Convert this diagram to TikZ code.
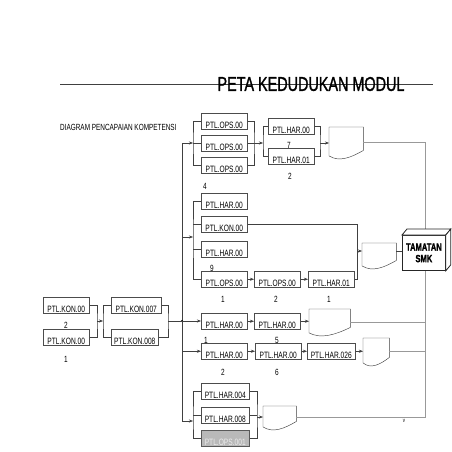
\documentclass[tikz,border=0pt]{standalone}
\usepackage{fontspec}
\setmainfont{Liberation Sans}
\newfontfamily\narrowfont[FakeStretch=0.72]{Liberation Sans}
\newfontfamily\titlefont[FakeStretch=0.72,FakeBold=1.2]{Liberation Sans}
\usetikzlibrary{arrows.meta,calc}

% document symbol with wavy bottom
\newcommand{\docshape}[1]{%
  \draw[line,fill=white] (#1.north west) -- (#1.north east) -- ([yshift=8pt]#1.south east)
    .. controls ($(#1.south west)!0.65!(#1.south east)+(0pt,1pt)$) and ($(#1.south west)!0.3!(#1.south east)+(0pt,-4pt)$) .. ([yshift=2.5pt]#1.south west) -- cycle;}
% top and side faces of the 3D box
\newcommand{\cubeshape}[1]{%
  \draw[cube] (#1.north west) -- ++(5,-6) -- ([shift={(5pt,6pt)}]#1.north east) -- (#1.north east) -- cycle;
  \draw[cube] (#1.north east) -- ++(5,-6) -- ([shift={(5pt,6pt)}]#1.south east) -- (#1.south east) -- cycle;}

\begin{document}
\begin{tikzpicture}[
    x=1pt, y=-1pt,
    line/.style={draw=black!75, line width=0.45pt},
    arrow/.style={line, -{Stealth[length=4pt,width=3pt]}},
    rail/.style={draw=black!40, line width=0.45pt},
    cube/.style={draw=black!85, line width=0.8pt, fill=white},
    box/.style={draw=black!70, fill=white, line width=0.5pt, anchor=north west, minimum width=46pt,
        inner xsep=0pt, inner ysep=0.5pt, text height=15pt, text depth=0pt, font=\fontsize{9.2}{10}\narrowfont},
    greybox/.style={box, fill=gray!55, draw=gray!70!black, text=gray!15},
    doc/.style={anchor=north west, inner sep=0pt},
    num/.style={inner sep=0pt, font=\fontsize{9}{10}\narrowfont},
    dot/.style={circle, fill=black, inner sep=0pt, minimum size=2.2pt}
]
    \fill[white] (0,0) rectangle (452,452);
    \useasboundingbox (0,0) rectangle (452,452);

    % Title
    \coordinate (ruleL) at (60,84);
    \coordinate (ruleR) at (433,84);
    \draw[line] (ruleL) -- (ruleR);
    \node[font=\fontsize{20}{22}\titlefont] (title) at (311,84) {PETA KEDUDUKAN MODUL};
    \node[anchor=west, inner sep=0pt, font=\fontsize{8.9}{10}\narrowfont] (subtitle) at (60,127) {DIAGRAM PENCAPAIAN KOMPETENSI};

    % Numbers
    \node[num] (n7) at (289,145) {7};
    \node[num] (n2a) at (290,176) {2};
    \node[num] (n4) at (205,186) {4};
    \node[num] (n9) at (212,268) {9};
    \node[num] (n1a) at (223,299) {1};
    \node[num] (n2b) at (276,299) {2};
    \node[num] (n1b) at (329,299) {1};
    \node[num] (n2k) at (66,325) {2};
    \node[num] (n1k) at (66,359) {1};
    \node[num] (n1c) at (206,340) {1};
    \node[num] (n5) at (277,340) {5};
    \node[num] (n2c) at (223,372) {2};
    \node[num] (n6) at (277,372) {6};
    \node[num, font=\fontsize{6}{6}\narrowfont] (nv) at (404,421) {v};

    % Group 1
    \node[box] (g1a) at (201,113) {PTL.OPS.00};
    \node[box] (g1b) at (201,135) {PTL.OPS.00};
    \node[box] (g1c) at (201,157) {PTL.OPS.00};
    \node[box] (g2a) at (268,118) {PTL.HAR.00};
    \node[box] (g2b) at (268,148) {PTL.HAR.01};
    \node[doc, minimum width=34pt, minimum height=31pt] (doc1) at (329,127) {};

    % Group 3
    \node[box] (g3a) at (201,193) {PTL.HAR.00};
    \node[box] (g3b) at (201,216) {PTL.KON.00};
    \node[box] (g3c) at (201,241) {PTL.HAR.00};
    \node[box] (g3d) at (201,271) {PTL.OPS.00};
    \node[box] (g3e) at (254,271) {PTL.OPS.00};
    \node[box] (g3f) at (308,271) {PTL.HAR.01};
    \node[doc, minimum width=34pt, minimum height=25pt] (doc2) at (362,243) {};

    % Left groups
    \node[box] (k1a) at (43,297) {PTL.KON.00};
    \node[box] (k1b) at (43,329) {PTL.KON.00};
    \node[box, minimum width=50pt] (k2a) at (111,297) {PTL.KON.007};
    \node[box, minimum width=47pt] (k2b) at (111,329) {PTL.KON.008};

    % Rows 4 and 5
    \node[box] (r4a) at (201,313) {PTL.HAR.00};
    \node[box] (r4b) at (254,313) {PTL.HAR.00};
    \node[doc, minimum width=41pt, minimum height=26pt] (doc3) at (309,309) {};
    \node[box] (r5a) at (201,343) {PTL.HAR.00};
    \node[box] (r5b) at (255,343) {PTL.HAR.00};
    \node[box, minimum width=48pt] (r5c) at (307,343) {PTL.HAR.026};
    \node[doc, minimum width=26pt, minimum height=27pt] (doc4) at (363,338) {};

    % Group 6
    \node[box, minimum width=48pt] (g6a) at (201,383) {PTL.HAR.004};
    \node[box, minimum width=48pt] (g6b) at (201,407) {PTL.HAR.008};
    \node[greybox, minimum width=48pt] (g6c) at (201,430) {PTL.OPS.001};
    \node[doc, minimum width=33pt, minimum height=23pt] (doc5) at (263,406) {};

    % Documents
    \docshape{doc1}
    \docshape{doc2}
    \docshape{doc3}
    \docshape{doc4}
    \docshape{doc5}

    % Junctions
    \coordinate (spine) at (182,321);
    \coordinate (g1in) at (193,143);
    \coordinate (g1out) at (254,143);
    \coordinate (g2in) at (263,143);
    \coordinate (g2out) at (320,143);
    \coordinate (g3in) at (193,237);
    \coordinate (g3out) at (357,251);
    \coordinate (k1out) at (97,321);
    \coordinate (k2in) at (103,321);
    \coordinate (k2out) at (168,321);
    \coordinate (g6in) at (193,421);
    \coordinate (g6out) at (257,417);
    \coordinate (rail) at (425,418);

    % Right rail
    \draw[rail] (doc1.east) -| (doc5.east -| rail) -- (doc5.east);
    \draw[rail] (doc3.east) -- (doc3.east -| rail);
    \draw[rail] (doc4.east) -- (doc4.east -| rail);

    % Tamatan
    \node[draw=black!85, line width=0.8pt, fill=white, anchor=north west, minimum width=43pt, minimum height=35pt,
        inner sep=0pt, align=center, font=\fontsize{10.5}{11.5}\titlefont\bfseries] (tamatan) at (402,235) {TAMATAN\\SMK};
    \cubeshape{tamatan}

    % Trunk
    \draw[line] (spine |- g1in) -- (spine |- g6in);
    \node[dot] (hub) at (spine) {};
    \draw[arrow] (spine |- g1in) -- (g1in);
    \draw[arrow] (spine |- g3in) -- (g3in);
    \draw[arrow] (spine) -- (spine -| r4a.west);
    \draw[arrow] (spine |- r5a.west) -- (r5a.west);
    \draw[arrow] (spine |- g6in) -- (g6in);

    % Group 1 arrows
    \draw[line] (g1a.west) -| (g1in) |- (g1c.west);
    \draw[line] (g1b.west) -- (g1b.west -| g1in);
    \draw[line] (g1a.east) -| (g1out) |- (g1c.east);
    \draw[line] (g1b.east) -- (g1b.east -| g1out);
    \draw[arrow] (g1out) -- (g2in);
    \draw[line] (g2a.west) -| (g2in) |- (g2b.west);
    \draw[line] (g2a.east) -| (g2out) |- (g2b.east);
    \draw[arrow] (g2out) -- (g2out -| doc1.west);

    % Group 3 arrows
    \draw[line] (g3a.west) -| (g3in) |- (g3d.west);
    \draw[line] (g3b.west) -- (g3b.west -| g3in);
    \draw[line] (g3c.west) -- (g3c.west -| g3in);
    \draw[line] (g3b.east) -| (g3out);
    \draw[line] (g3f.east) -| (g3out);
    \draw[arrow] (g3out) -- (g3out -| doc2.west);
    \draw[arrow] (g3d) -- (g3e);
    \draw[arrow] (g3e) -- (g3f);
    \draw[line] (g3out -| doc2.east) -- (g3out -| tamatan.west);

    % Left arrows
    \draw[line] (k1a.east) -| (k1out) |- (k1b.east);
    \draw[arrow] (k1out) -- (k2in);
    \draw[line] (k2a.west) -| (k2in) |- (k2b.west);
    \draw[line] (k2a.east) -| (k2out) |- (k2b.east);
    \draw[line] (k2out) -- (hub);

    % Rows 4 and 5 arrows
    \draw[arrow] (r4a) -- (r4b);
    \draw[arrow] (r4b.east) -- (r4b.east -| doc3.west);
    \draw[arrow] (r5a) -- (r5b);
    \draw[arrow] (r5b) -- (r5c);
    \draw[arrow] (r5c.east) -- (r5c.east -| doc4.west);

    % Group 6 arrows
    \draw[line] (g6a.west) -| (g6in) |- (g6c.west);
    \draw[line] (g6b.west) -- (g6b.west -| g6in);
    \draw[line] (g6a.east) -| (g6out) |- (g6c.east);
    \draw[line] (g6b.east) -- (g6b.east -| g6out);
    \draw[arrow] (g6out) -- (g6out -| doc5.west);
\end{tikzpicture}
\end{document}
